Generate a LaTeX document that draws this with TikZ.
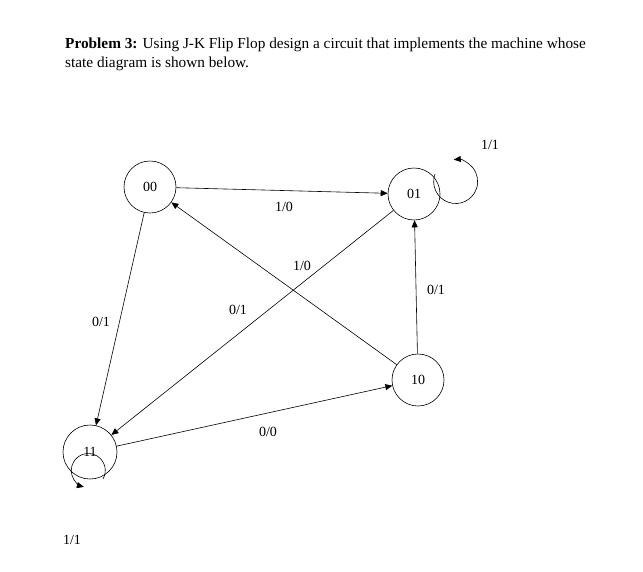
\documentclass[tikz,border=0pt]{standalone}
\usepackage{fontspec}
\setmainfont{Liberation Serif}
\usetikzlibrary{arrows.meta}
\begin{document}
\begin{tikzpicture}[x=1pt,y=-1pt,
  st/.style={circle,draw,line width=0.6pt,minimum size=52pt,inner sep=0pt,font=\fontsize{14}{16}\selectfont},
  lb/.style={font=\fontsize{14}{16}\selectfont},
  ar/.style={line width=0.6pt,-{Triangle[length=7pt,width=6pt]}}]
\useasboundingbox (0,0) rectangle (643,571);
\node[anchor=west,font=\fontsize{15.3}{17}\selectfont,inner sep=0pt] (t1) at (65,45) {\textbf{Problem 3:} Using J-K Flip Flop design a circuit that implements the machine whose};
\node[anchor=west,font=\fontsize{15.3}{17}\selectfont,inner sep=0pt] (t2) at (65,64) {state diagram is shown below.};
\node[st] (a) at (150,187) {00};
\node[st] (b) at (414,194) {01};
\node[st] (c) at (418,380) {10};
\node[st,minimum size=54pt] (d) at (90,452) {11};
\draw[ar] (a) -- (b);
\draw[ar] (c) -- (a);
\draw[ar] (b) -- (d);
\draw[ar] (d) -- (c);
\draw[ar] (a) -- (d);
\draw[ar] (c) -- (b);
\coordinate (lp1) at (435,174);
\draw[ar] (lp1) arc[start angle=200,end angle=-95,radius=22] ;
\coordinate (lp2) at (74,478);
\draw[ar] (103,479) arc[start angle=30,end angle=-255,radius=17];
\node[lb] (l1) at (284,207) {1/0};
\node[lb] (l2) at (302,266) {1/0};
\node[lb] (l3) at (238,310) {0/1};
\node[lb] (l4) at (268,432) {0/0};
\node[lb] (l5) at (101,322) {0/1};
\node[lb] (l6) at (436,290) {0/1};
\node[lb] (l7) at (490,145) {1/1};
\node[lb] (l8) at (72,540) {1/1};
\end{tikzpicture}
\end{document}
